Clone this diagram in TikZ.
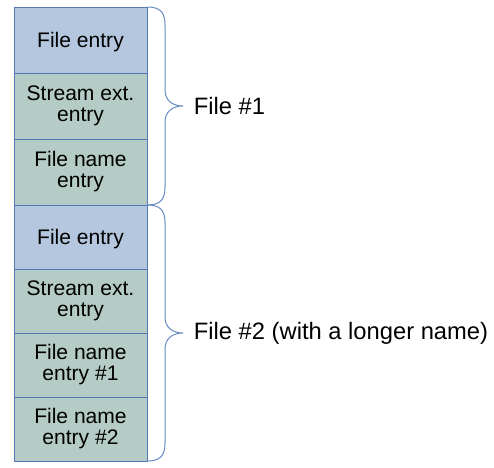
\documentclass[tikz,border=0pt]{standalone}
\usepackage{fontspec}
\setmainfont{Liberation Sans}
\usetikzlibrary{positioning,calc}

\definecolor{entryblue}{RGB}{180,199,222}
\definecolor{entrygreen}{RGB}{180,203,198}
\definecolor{edgeblue}{RGB}{84,118,178}
\definecolor{braceblue}{RGB}{102,138,192}

\begin{document}
\begin{tikzpicture}[x=0.75pt,y=0.75pt,yscale=-1,xscale=1,
  entry/.style={draw=edgeblue, line width=0.75pt, outer sep=0pt, inner sep=0pt,
    minimum width=99.75pt, align=center, font=\fontsize{15.8}{15.8}\selectfont,
    execute at begin node=\rule{0pt}{14.8pt}},
  fileent/.style={entry, fill=entryblue},
  subent/.style={entry, fill=entrygreen},
  grpone/.style={minimum height=49.5pt},
  grptwo/.style={minimum height=48pt},
  curly/.style={draw=braceblue, line width=0.75pt},
  bracelbl/.style={anchor=west, inner sep=0pt, font=\fontsize{17.8}{20}\selectfont}]
\useasboundingbox (0,0) rectangle (494,468);
%first file: three entries
\node[fileent,grpone,anchor=north west] (fileA) at (14,7) {File entry};
\node[subent,grpone,below=0pt of fileA] (streamA) {Stream ext.\\entry};
\node[subent,grpone,below=0pt of streamA] (nameA) {File name\\entry};
%second file: four entries
\node[fileent,grptwo,below=0pt of nameA] (fileB) {File entry};
\node[subent,grptwo,below=0pt of fileB] (streamB) {Stream ext.\\entry};
\node[subent,grptwo,below=0pt of streamB] (nameBa) {File name\\entry \#1};
\node[subent,grptwo,below=0pt of nameBa] (nameBb) {File name\\entry \#2};
%brace tips
\coordinate (tipA) at ($($(fileA.north east)!0.5!(nameA.south east)$)+(36,0)$);
\coordinate (tipB) at ($($(fileB.north east)!0.5!(nameBb.south east)$)+(36,0)$);
%Shape: Brace
\draw[curly] (fileA.north east) .. controls +(13,0) and +(0,-13) .. ++(18,18)
  -- ($(tipA)+(-18,-16)$) .. controls +(0,10) and +(-11,0) .. (tipA)
  .. controls +(-11,0) and +(0,-10) .. ($(tipA)+(-18,16)$)
  -- ($(nameA.south east)+(18,-18)$) .. controls +(0,13) and +(13,0) .. (nameA.south east);
\draw[curly] (fileB.north east) .. controls +(13,0) and +(0,-13) .. ++(18,18)
  -- ($(tipB)+(-18,-16)$) .. controls +(0,10) and +(-11,0) .. (tipB)
  .. controls +(-11,0) and +(0,-10) .. ($(tipB)+(-18,16)$)
  -- ($(nameBb.south east)+(18,-18)$) .. controls +(0,13) and +(13,0) .. (nameBb.south east);
%labels
\node[bracelbl,right=8pt of tipA] (lblA) {File \#1};
\node[bracelbl,right=8pt of tipB] (lblB) {File \#2 (with a longer name)};
\end{tikzpicture}
\end{document}
